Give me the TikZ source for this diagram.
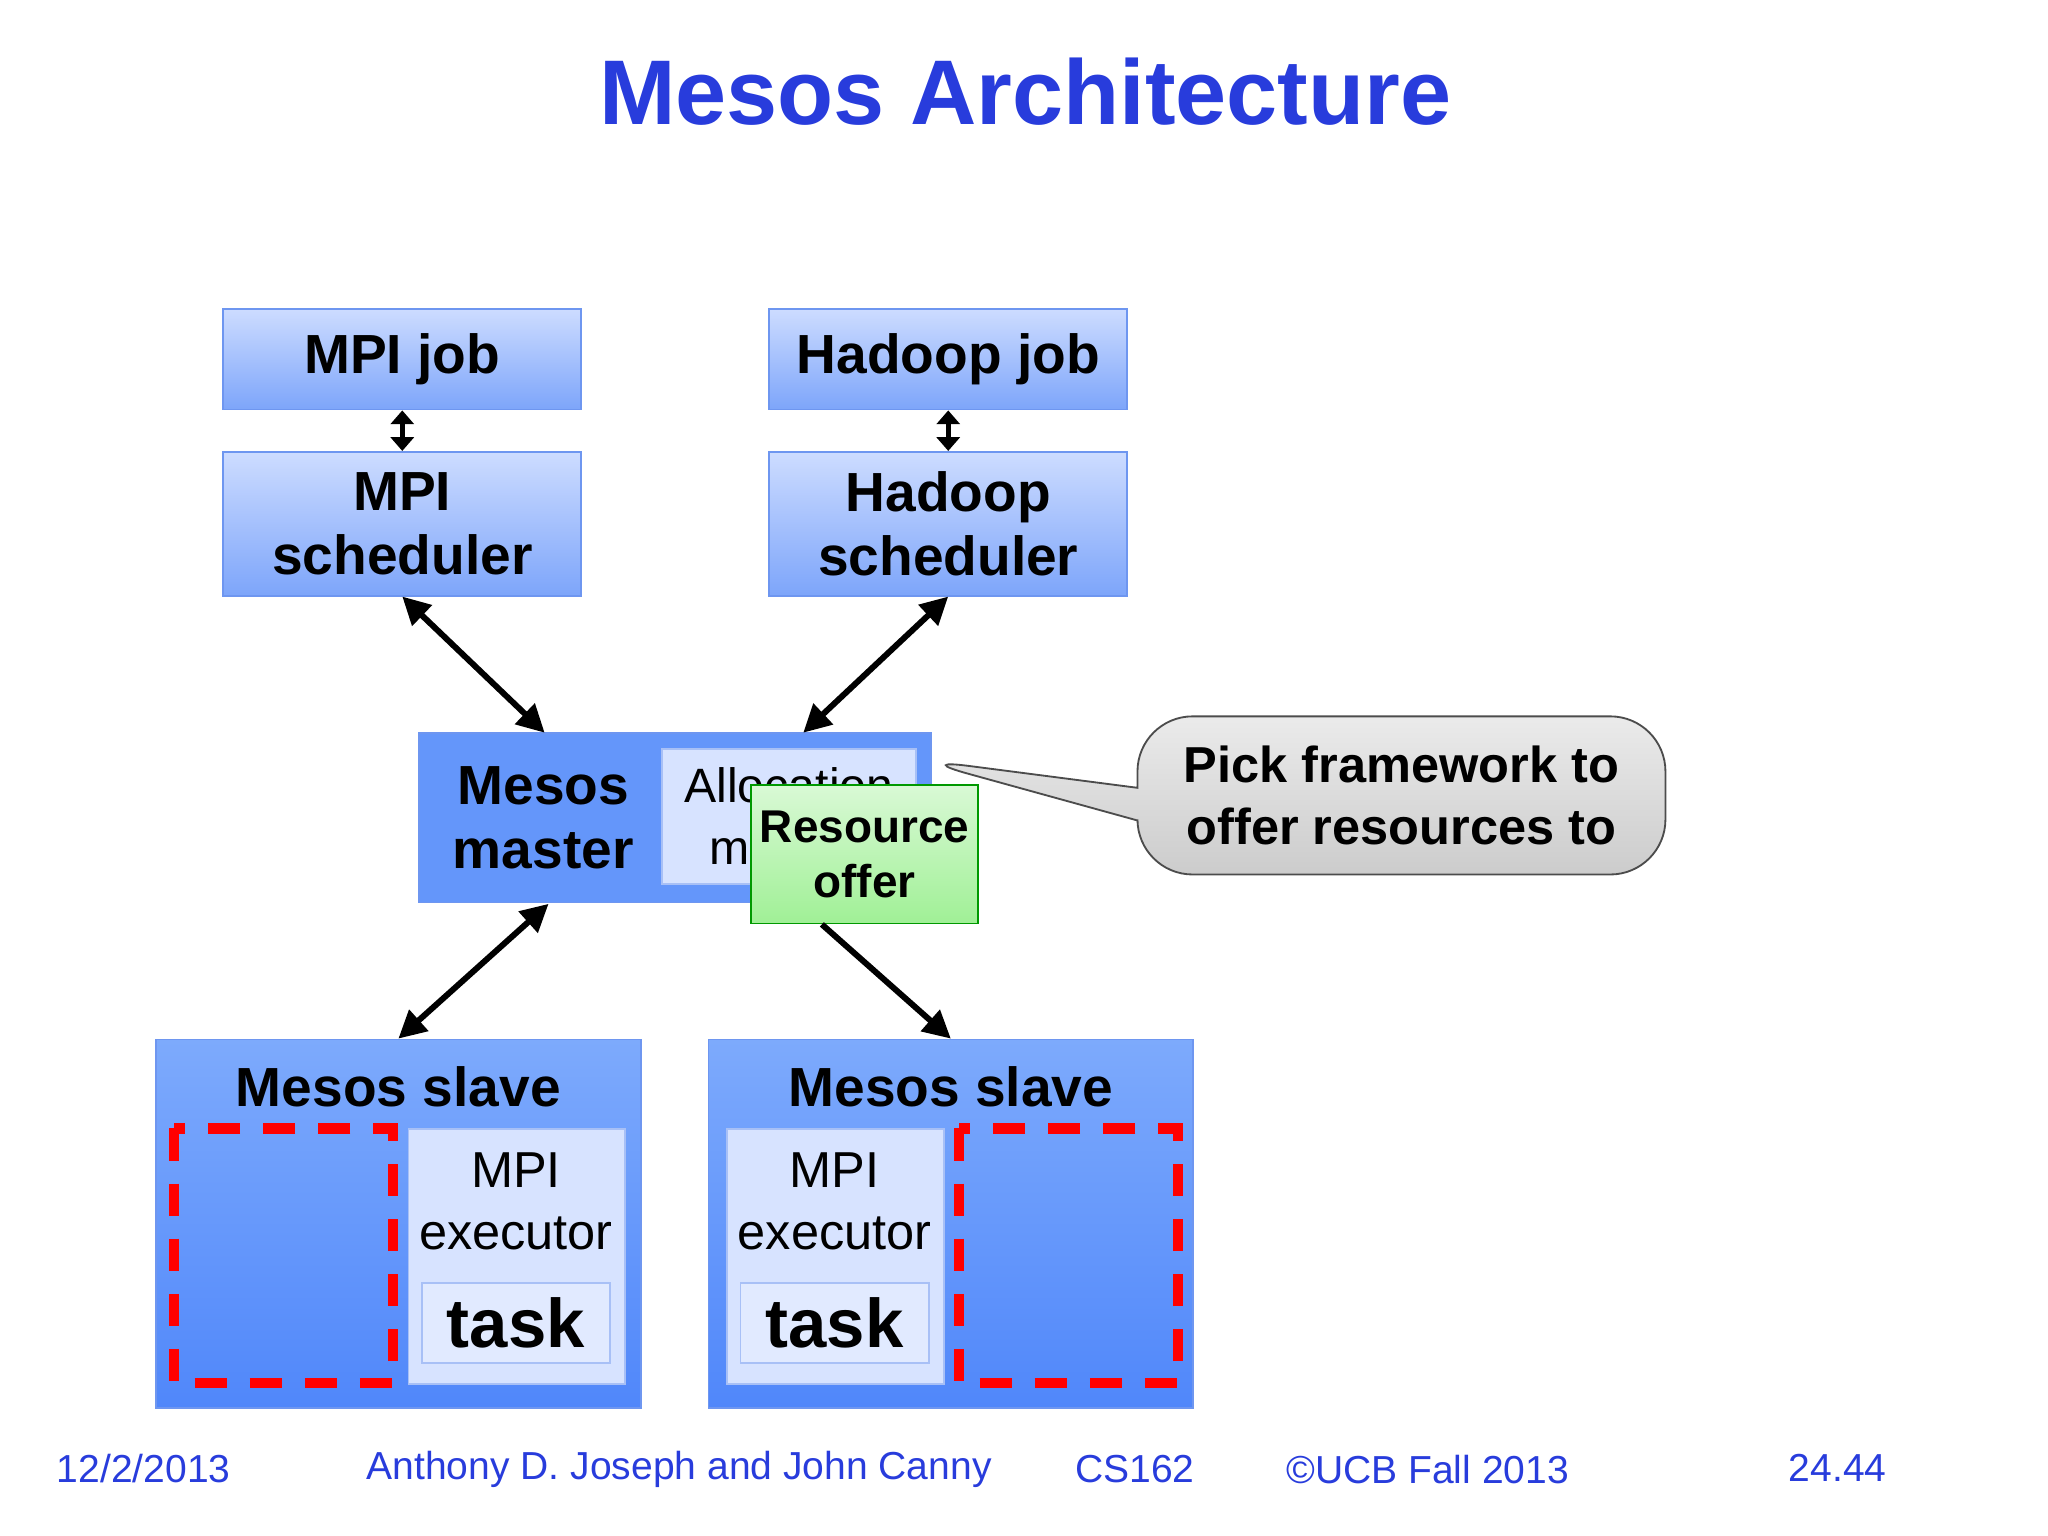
\documentclass[tikz,border=0pt]{standalone}
\usepackage{fontspec}
\setmainfont{Liberation Sans}
\usetikzlibrary{arrows.meta,shapes.callouts}
\definecolor{titleblue}{RGB}{40,60,220}
\definecolor{boxtop}{RGB}{205,220,255}
\definecolor{boxbot}{RGB}{125,165,250}
\definecolor{boxline}{RGB}{110,150,240}
\definecolor{masterblue}{RGB}{100,150,250}
\definecolor{slavetop}{RGB}{125,170,252}
\definecolor{slavebot}{RGB}{80,135,250}
\definecolor{offergreen}{RGB}{160,240,150}
\tikzset{
  sched/.style={draw=boxline,top color=boxtop,bottom color=boxbot,font=\fontsize{12}{14}\selectfont\bfseries,align=center,inner sep=0pt},
  inner/.style={draw=boxline!60,fill=boxtop!80,inner sep=0pt,align=center},
  slave/.style={draw=boxline,top color=slavetop,bottom color=slavebot,inner sep=0pt},
  dashbox/.style={draw=red,line width=2.2pt,dash pattern=on 7pt off 5pt},
  link/.style={line width=1.3pt,{Triangle[length=6pt,width=6pt]}-{Triangle[length=6pt,width=6pt]}},
  short/.style={line width=1.1pt,{Triangle[length=3pt,width=5pt]}-{Triangle[length=3pt,width=5pt]}},
  foot/.style={text=titleblue,font=\fontsize{8.5}{10}\selectfont}
}
\begin{document}
\begin{tikzpicture}[x=0.01cm,y=-0.01cm]
\useasboundingbox (0,0) rectangle (1568,1176);
\node[text=titleblue,font=\fontsize{20}{24}\selectfont\bfseries] (title) at (785,70) {Mesos Architecture};

% schedulers
\node[sched,minimum width=2.74cm,minimum height=0.77cm] (mpijob) at (308,275) {MPI job};
\node[sched,minimum width=2.74cm,minimum height=1.1cm] (mpisched) at (308,401) {MPI\\scheduler};
\node[sched,minimum width=2.74cm,minimum height=0.77cm] (hadjob) at (726,275) {Hadoop job};
\node[sched,minimum width=2.74cm,minimum height=1.1cm] (hadsched) at (726,401) {Hadoop\\scheduler};
\draw[short] (mpijob) -- (mpisched);
\draw[short] (hadjob) -- (hadsched);

% master
\node[draw=boxline,fill=masterblue,minimum width=3.92cm,minimum height=1.3cm,inner sep=0pt] (master) at (517,626) {};
\node[font=\fontsize{12}{14}\selectfont\bfseries,align=center] (mastertxt) at (416,626) {Mesos\\master};
\node[inner,minimum width=1.94cm,minimum height=1.03cm,font=\fontsize{10.5}{13.5}\selectfont] (alloc) at (604,625) {Allocation\\module};
\node[draw=green!60!black,top color=offergreen!40,bottom color=offergreen,minimum width=1.74cm,minimum height=1.06cm,inner sep=0pt,font=\fontsize{10}{12}\selectfont\bfseries,align=center] (offer) at (662,654) {Resource\\offer};

% callout
\node[rectangle callout,rounded corners=12pt,draw=black!70,top color=white!92!black,bottom color=black!20,minimum width=4.04cm,minimum height=1.21cm,callout pointer width=0.25cm,font=\fontsize{11}{13.5}\selectfont\bfseries,align=center,callout absolute pointer={(700,581)}] (pick) at (1073,609) {Pick framework to\\offer resources to};

\coordinate (mtop1) at (417,561);
\coordinate (mtop2) at (615,561);
\coordinate (mbot) at (420,692);
\draw[link] (mpisched.south) -- (mtop1);
\draw[link] (hadsched.south) -- (mtop2);

% slaves
\foreach \nm/\cx in {slaveA/305,slaveB/728}
  \node[slave,minimum width=3.71cm,minimum height=2.82cm] (\nm) at (\cx,937) {};
\node[font=\fontsize{12}{14}\selectfont\bfseries] (slaveAtxt) at (305,832) {Mesos slave};
\node[font=\fontsize{12}{14}\selectfont\bfseries] (slaveBtxt) at (728,832) {Mesos slave};
\draw[link] (mbot) -- (slaveA.north);
\draw[line width=1.3pt,-{Triangle[length=6pt,width=6pt]}] (offer.south west) ++(55,0) -- (slaveB.north);

\node[inner,minimum width=1.66cm,minimum height=1.95cm,anchor=north west] (execA) at (312,864) {};
\node[font=\fontsize{11}{13.5}\selectfont,align=center] (execAtxt) at (395,920) {MPI\\executor};
\node[inner,fill=boxtop!60,minimum width=1.44cm,minimum height=0.61cm,font=\fontsize{15}{18}\selectfont\bfseries] (taskA) at (395,1013) {task};
\draw[dashbox] (133,864) rectangle (301,1059);

\node[inner,minimum width=1.66cm,minimum height=1.95cm,anchor=north west] (execB) at (556,864) {};
\node[font=\fontsize{11}{13.5}\selectfont,align=center] (execBtxt) at (639,920) {MPI\\executor};
\node[inner,fill=boxtop!60,minimum width=1.44cm,minimum height=0.61cm,font=\fontsize{15}{18}\selectfont\bfseries] (taskB) at (639,1013) {task};
\draw[dashbox] (734,864) rectangle (902,1059);

% footer
\node[foot] (date) at (110,1124) {12/2/2013};
\node[foot] (authors) at (520,1125) {Anthony D. Joseph and John Canny};
\node[foot] (course) at (869,1125) {CS162};
\node[foot] (copy) at (1093,1125) {©UCB Fall 2013};
\node[foot] (page) at (1407,1124) {24.44};
\end{tikzpicture}
\end{document}
